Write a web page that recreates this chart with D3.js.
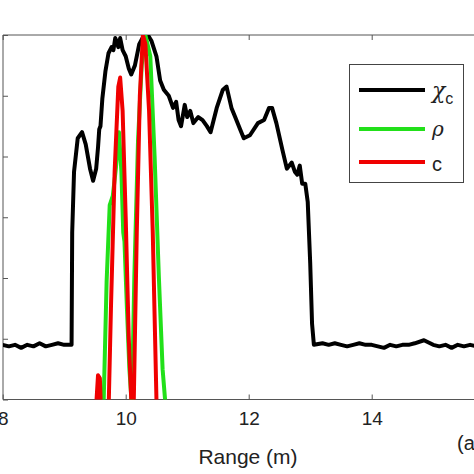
<!DOCTYPE html>
<html><head><meta charset="utf-8">
<script src="https://cdn.jsdelivr.net/npm/d3@7"></script>
<style>body{margin:0;background:#fff}svg{display:block}</style>
</head><body><svg id="c" width="474" height="474"></svg>
<script>
const xTicks=[8,10,12,14];
const yTicks=[-0.2,0,0.2,0.4,0.6,0.8,1.0];
const chiX=[8.0,8.1,8.2,8.3,8.4,8.5,8.6,8.7,8.8,8.9,9.0,9.12,9.13,9.16,9.22,9.29,9.35,9.42,9.47,9.52,9.55,9.57,9.59,9.62,9.67,9.72,9.77,9.80,9.83,9.85,9.88,9.91,9.95,10.0,10.05,10.09,10.15,10.22,10.3,10.36,10.42,10.5,10.56,10.62,10.70,10.77,10.82,10.86,10.90,10.96,11.0,11.05,11.1,11.18,11.25,11.32,11.38,11.48,11.58,11.64,11.72,11.78,11.86,11.92,12.02,12.15,12.25,12.33,12.38,12.45,12.55,12.62,12.7,12.75,12.79,12.83,12.87,12.92,12.96,13.0,13.03,13.06,13.2,13.3,13.4,13.5,13.6,13.7,13.8,13.9,14.0,14.1,14.2,14.3,14.4,14.5,14.6,14.7,14.85,15.0,15.1,15.2,15.3,15.4,15.5,15.6,15.7,15.8,15.9,16.0];
const chiY=[-0.02,-0.025,-0.02,-0.03,-0.02,-0.025,-0.015,-0.025,-0.02,-0.015,-0.02,-0.02,0.35,0.55,0.66,0.68,0.64,0.56,0.52,0.56,0.63,0.69,0.70,0.79,0.88,0.94,0.96,0.95,0.99,0.98,0.96,0.99,0.95,0.93,0.89,0.87,0.9,0.97,1.0,1.0,0.98,0.93,0.85,0.82,0.80,0.76,0.78,0.72,0.70,0.77,0.73,0.75,0.71,0.73,0.72,0.70,0.68,0.76,0.82,0.83,0.76,0.73,0.69,0.66,0.67,0.71,0.72,0.76,0.76,0.71,0.62,0.56,0.58,0.55,0.54,0.57,0.51,0.51,0.45,0.25,0.05,-0.02,-0.015,-0.02,-0.015,-0.02,-0.025,-0.02,-0.015,-0.02,-0.02,-0.025,-0.03,-0.02,-0.025,-0.02,-0.02,-0.015,-0.005,-0.02,-0.025,-0.02,-0.03,-0.02,-0.025,-0.02,-0.025,-0.02,-0.03,-0.02];
const rhoX=[9.64,9.69,9.74,9.79,9.84,9.89,9.93,9.96,9.98,10.02,10.06,10.10,10.14,10.2,10.26,10.32,10.40,10.47,10.54,10.60,10.66];
const rhoY=[-0.22,0.19,0.44,0.47,0.56,0.68,0.55,0.35,0.32,0.1,-0.1,-0.22,0.2,0.65,0.9,1.0,0.93,0.6,0.2,-0.1,-0.25];
const cX=[9.52,9.55,9.58,9.6,9.72,9.76,9.82,9.88,9.91,9.95,10.0,10.05,10.1,10.13,10.18,10.23,10.28,10.32,10.38,10.44,10.5,10.52];
const cY=[-0.22,-0.12,-0.13,-0.25,-0.25,0.1,0.55,0.83,0.86,0.75,0.4,0.0,-0.25,-0.22,0.35,0.8,1.0,0.97,0.75,0.35,-0.2,-0.25];

const svg=d3.select("#c");
const L=3,T=35,B=399.5,R=2.7+8*61.5;
const x=d3.scaleLinear().domain([8,16]).range([2.7,2.7+8*61.5]);
const y=d3.scaleLinear().domain([-0.2,1]).range([B,T]);
svg.append("clipPath").attr("id","clp").append("rect").attr("x",L).attr("y",T).attr("width",R-L).attr("height",B-T);
const ax=svg.append("g").attr("font-family","Liberation Sans, Arial, sans-serif");
ax.append("g").attr("transform",`translate(0,${B})`).call(d3.axisBottom(x).tickValues(xTicks).tickSize(-5).tickPadding(12).tickFormat(d3.format("d")))
 .call(g=>{g.select(".domain").remove();g.selectAll("line").attr("stroke","#555");g.selectAll("text").attr("font-size",19).attr("fill","#222");});
ax.append("g").attr("transform",`translate(0,${T})`).call(d3.axisTop(x).tickValues(xTicks).tickSize(-5).tickFormat(""))
 .call(g=>{g.select(".domain").remove();g.selectAll("line").attr("stroke","#555");});
ax.append("g").attr("transform",`translate(${L},0)`).call(d3.axisLeft(y).tickValues(yTicks).tickSize(-5).tickFormat(""))
 .call(g=>{g.select(".domain").remove();g.selectAll("line").attr("stroke","#555");});
svg.append("path").attr("d",`M${L},${B}H${R}M${L},${T}H${R}M${L},${T}V${B}`).attr("stroke","#555").attr("fill","none");
const line=(xs,ys)=>d3.line().x(i=>x(xs[i])).y(i=>y(ys[i]))(d3.range(xs.length));
const pg=svg.append("g").attr("clip-path","url(#clp)").attr("fill","none").attr("stroke-width",4).attr("stroke-linejoin","round");
pg.append("path").attr("d",line(chiX,chiY)).attr("stroke","#000");
pg.append("path").attr("d",line(rhoX,rhoY)).attr("stroke","#22e01a");
pg.append("path").attr("d",line(cX,cY)).attr("stroke","#f00000");
svg.append("text").attr("x",248).attr("y",464).attr("text-anchor","middle").attr("font-family","Liberation Sans, Arial, sans-serif").attr("font-size",21).attr("fill","#222").text("Range (m)");
svg.append("text").attr("x",457).attr("y",450).attr("font-family","Liberation Sans, Arial, sans-serif").attr("font-size",20).attr("fill","#222").text("(a)");
const lg=svg.append("g");
lg.append("rect").attr("x",349.5).attr("y",64.5).attr("width",114).attr("height",118).attr("fill","#fff").attr("stroke","#444");
const items=[{c:"#000",y:90},{c:"#22e01a",y:129},{c:"#f00000",y:162}];
items.forEach(d=>lg.append("line").attr("x1",359).attr("x2",425).attr("y1",d.y).attr("y2",d.y).attr("stroke",d.c).attr("stroke-width",4));
const t1=lg.append("text").attr("x",432).attr("y",98).attr("font-family","DejaVu Serif, serif").attr("font-style","italic").attr("font-size",22).attr("fill","#222").text("χ");
t1.append("tspan").attr("font-family","Liberation Sans, sans-serif").attr("font-style","normal").attr("font-size",16).attr("dy",6).text("c");
lg.append("text").attr("x",432).attr("y",136).attr("font-family","DejaVu Serif, serif").attr("font-style","italic").attr("font-size",20).attr("fill","#222").text("ρ");
lg.append("text").attr("x",432).attr("y",171).attr("font-family","Liberation Sans, sans-serif").attr("font-size",20).attr("fill","#222").text("c");
</script></body></html>
